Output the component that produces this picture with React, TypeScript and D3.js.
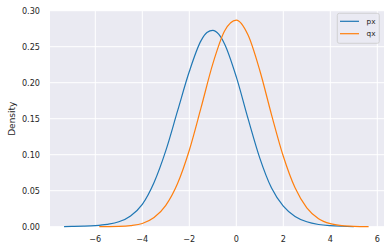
import React from "react";
import * as d3 from "d3";

const pxX = [-7.33, -7, -6.5, -6, -5.5, -5, -4.5, -4, -3.5, -3, -2.5, -2, -1.5, -1.25, -1, -0.75, -0.5, 0, 0.5, 1, 1.5, 2, 2.5, 3, 3.5, 4, 4.5, 5];
const pxY = [0.0002, 0.0004, 0.0008, 0.0016, 0.0033, 0.0068, 0.015, 0.031, 0.0614, 0.1056, 0.1608, 0.2155, 0.2584, 0.2696, 0.2727, 0.2674, 0.2539, 0.2081, 0.1501, 0.0953, 0.0536, 0.0285, 0.0142, 0.0068, 0.0031, 0.0014, 0.0006, 0.0002];

const qxX = [-5.83, -5.5, -5, -4.5, -4, -3.5, -3, -2.5, -2, -1.5, -1, -0.5, 0, 0.5, 1, 1.5, 2, 2.5, 3, 3.5, 4, 4.5, 5, 5.63];
const qxY = [0.0001, 0.0002, 0.0005, 0.0016, 0.0045, 0.0127, 0.0297, 0.06, 0.1062, 0.1653, 0.2261, 0.2717, 0.2869, 0.2661, 0.2169, 0.1554, 0.0978, 0.054, 0.0263, 0.0112, 0.0042, 0.0014, 0.0005, 0.0002];

const xTicks = [-6, -4, -2, 0, 2, 4, 6];
const yTicks = [0, 0.05, 0.1, 0.15, 0.2, 0.25, 0.3];
const seriesNames = ["px", "qx"];
const colors = ["#1f77b4", "#ff7f0e"];

export default function App() {
  const W = 390, H = 251;
  const left = 50, right = 384, top = 10.7, bottom = 226.7;
  const x = d3.scaleLinear().domain([-7.928, 6.285]).range([left, right]);
  const y = d3.scaleLinear().domain([0, 0.3]).range([bottom, top]);
  const line = d3
    .line<[number, number]>()
    .x((d) => x(d[0]))
    .y((d) => y(d[1]))
    .curve(d3.curveMonotoneX);
  const series = [
    pxX.map((v, i) => [v, pxY[i]] as [number, number]),
    qxX.map((v, i) => [v, qxY[i]] as [number, number]),
  ];
  const font = "DejaVu Sans, sans-serif";
  const fmt = d3.format(".2f");
  const tickColor = "#262626";
  return (
    <svg width={W} height={H} style={{ position: "absolute", left: 0, top: 0 }} fontFamily={font}>
      <rect x={0} y={0} width={W} height={H} fill="#ffffff" />
      <rect x={left} y={top} width={right - left} height={bottom - top} fill="#EAEAF2" />
      {xTicks.map((t) => (
        <line key={"gx" + t} x1={x(t)} x2={x(t)} y1={top} y2={bottom} stroke="#fff" strokeWidth={1} />
      ))}
      {yTicks.map((t) => (
        <line key={"gy" + t} x1={left} x2={right} y1={y(t)} y2={y(t)} stroke="#fff" strokeWidth={1} />
      ))}
      {series.map((s, i) => (
        <path key={i} d={line(s) || ""} fill="none" stroke={colors[i]} strokeWidth={1.2} />
      ))}
      {xTicks.map((t) => (
        <text key={"tx" + t} x={x(t)} y={242} fontSize={8.1} textAnchor="middle" fill={tickColor}>
          {t < 0 ? "\u2212" + Math.abs(t) : String(t)}
        </text>
      ))}
      {yTicks.map((t) => (
        <text key={"ty" + t} x={40} y={y(t) + 3} fontSize={8.1} textAnchor="end" fill={tickColor}>
          {fmt(t)}
        </text>
      ))}
      <text
        transform={`translate(14.5, ${(top + bottom) / 2}) rotate(-90)`}
        fontSize={9}
        textAnchor="middle"
        fill={tickColor}
      >
        Density
      </text>
      <rect x={337.3} y={13.3} width={42} height={30} rx={2} fill="#EAEAF2" fillOpacity={0.8} stroke="#cccccc" strokeWidth={0.8} />
      {seriesNames.map((n, i) => (
        <g key={n}>
          <line x1={340} x2={359} y1={21.3 + i * 12.4} y2={21.3 + i * 12.4} stroke={colors[i]} strokeWidth={1.2} />
          <text x={366.5} y={21.3 + i * 12.4 + 2.6} fontSize={7.3} fill={tickColor}>
            {n}
          </text>
        </g>
      ))}
    </svg>
  );
}
